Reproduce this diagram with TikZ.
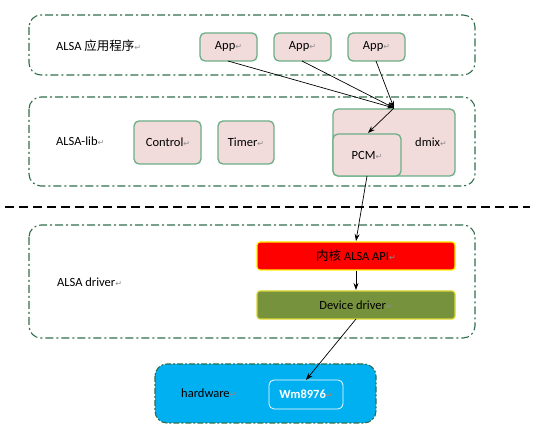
\documentclass[tikz,border=0pt]{standalone}
\usepackage{fontspec}
\setmainfont{Carlito}
\newfontfamily\cjk{Noto Sans CJK SC}
\newfontfamily\symf{DejaVu Sans}
\usetikzlibrary{arrows.meta}
\definecolor{grpgreen}{HTML}{2F6E4C}
\definecolor{boxgreen}{HTML}{6BAE85}
\definecolor{boxfill}{HTML}{F2DCDB}
\definecolor{hwblue}{HTML}{00B0F0}
\definecolor{olive}{HTML}{76923C}
\definecolor{retgray}{HTML}{8C8C8C}
\newcommand{\ret}{{\color{retgray}\symf\fontsize{8}{8}\selectfont ↵}}
\tikzset{
  grp/.style={draw=grpgreen, line width=1.1pt, rounded corners=12pt,
    dash pattern=on 8pt off 3pt on 2pt off 3pt},
  comp/.style={draw=boxgreen, fill=boxfill, line width=1.3pt, rounded corners=5pt},
  lbl/.style={font=\fontsize{12.5}{15}\selectfont, inner sep=0pt},
  arr/.style={-{Stealth[length=7pt,width=5pt]}, line width=0.7pt}
}
\begin{document}
\begin{tikzpicture}[x=1pt,y=-1pt]
\useasboundingbox (0,0) rectangle (547,435);
% groups
\draw[grp] (29,15) rectangle (475,75);
\draw[grp] (29,97) rectangle (475,186);
\draw[grp] (29,225) rectangle (475,338);
\draw[grp, fill=hwblue, dash pattern=on 6pt off 2pt on 2pt off 2pt] (155,364) rectangle (376,423);
% separator
\draw[line width=1.6pt, dash pattern=on 9pt off 5pt] (5,207) -- (530,207);
% group labels
\node[lbl, anchor=west] (lapp) at (56,46) {ALSA {\cjk 应用程序}\ret};
\node[lbl, anchor=west] (llib) at (56,141) {ALSA-lib\ret};
\node[lbl, anchor=west] (ldrv) at (57,282) {ALSA driver\ret};
\node[lbl, anchor=west] (lhw) at (181,393) {hardware\ret};
% apps
\draw[comp] (200,33) rectangle (257,61);
\node[lbl] (app1) at (228.5,47) {App\ret};
\draw[comp] (274,33) rectangle (331,61);
\node[lbl] (app2) at (302.5,47) {App\ret};
\draw[comp] (348,33) rectangle (405,61);
\node[lbl] (app3) at (376.5,47) {App\ret};
\coordinate (a1) at (228,61);
\coordinate (a2) at (302,61);
\coordinate (a3) at (376,61);
% lib
\draw[comp] (134,121) rectangle (201,164);
\node[lbl] (ctrl) at (168,142) {Control\ret};
\draw[comp] (218,121) rectangle (274,164);
\node[lbl] (timer) at (246,142) {Timer\ret};
\draw[comp] (333,109) rectangle (455,176);
\node[lbl] (dmix) at (431,142) {dmix\ret};
\draw[comp] (333,134) rectangle (401,176);
\node[lbl] (pcm) at (367,155) {PCM\ret};
\coordinate (conv) at (394,108);
\coordinate (pcmtop) at (368,133);
\coordinate (pcmbot) at (367,176);
% driver
\draw[draw=yellow, fill=red, line width=1.2pt, rounded corners=3pt] (257,242) rectangle (455,270);
\node[lbl] (api) at (356,256) {{\cjk 内核} ALSA API\ret};
\draw[draw=yellow!70!olive, fill=olive, line width=1.2pt, rounded corners=3pt] (257,291) rectangle (455,319);
\node[lbl] (dev) at (356,305) {Device driver\ret};
\coordinate (apitop) at (356,241);
\coordinate (apibot) at (356,271);
\coordinate (devtop) at (356,290);
\coordinate (devbot) at (356,319);
% hardware chip
\draw[draw=white, line width=0.8pt, rounded corners=5pt] (269,380) rectangle (343,409);
\node[lbl, text=white, font=\fontsize{12.5}{15}\selectfont\bfseries] (wm) at (306,394.5) {Wm8976\ret};
\coordinate (wmtop) at (306,380);
% arrows
\draw[arr] (a1) -- (conv);
\draw[arr] (a2) -- (conv);
\draw[arr] (a3) -- (conv);
\draw[arr] (conv) -- (pcmtop);
\draw[arr] (pcmbot) -- (apitop);
\draw[arr] (apibot) -- (devtop);
\draw[arr] (devbot) -- (wmtop);
\end{tikzpicture}
\end{document}
